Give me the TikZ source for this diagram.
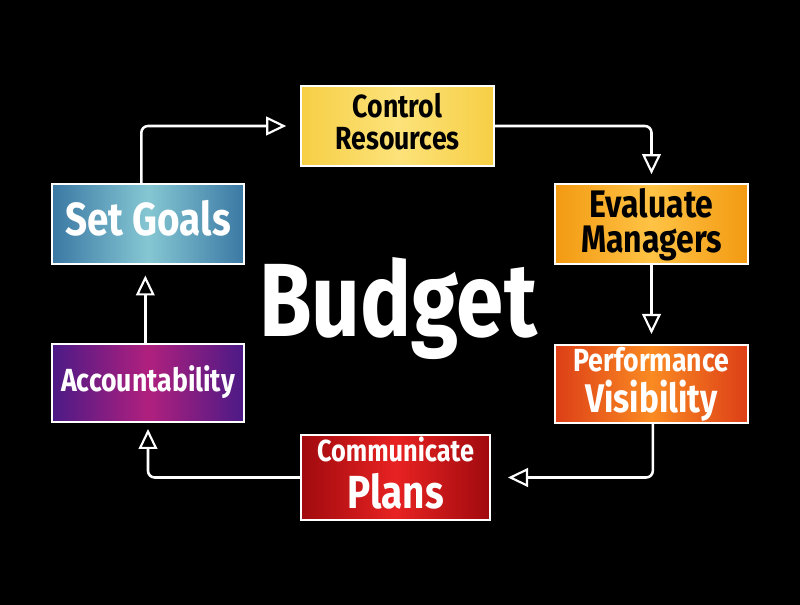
\documentclass[tikz,border=0pt]{standalone}
\usepackage{graphicx}
\usepackage{fontspec}
\setmainfont{Fira Sans}
\usetikzlibrary{arrows.meta}
\definecolor{ylwE}{HTML}{F7CF45}\definecolor{ylwM}{HTML}{FCE27A}
\definecolor{bluE}{HTML}{3A78A3}\definecolor{bluM}{HTML}{86C7D3}
\definecolor{orgE}{HTML}{F39A12}\definecolor{orgM}{HTML}{FFC345}
\definecolor{purE}{HTML}{4B1A86}\definecolor{purM}{HTML}{B0207E}
\definecolor{oreE}{HTML}{DD3F17}\definecolor{oreM}{HTML}{FA8A22}
\definecolor{redE}{HTML}{A00A0E}\definecolor{redM}{HTML}{E82222}
\newcommand\tallt[3]{\scalebox{1}[1.2]{\fontsize{#1}{#2}\selectfont\begin{tabular}{@{}c@{}}#3\end{tabular}}}
\tikzset{
  boxnode/.style={draw=white, line width=1.5pt, inner sep=0pt, minimum width=144.5pt, minimum height=60pt, align=center, font=\bfseries},
  conn/.style={draw=white, line width=1.9pt, rounded corners=5pt, -{Triangle[open, length=15pt, width=14pt, line width=1.6pt]}}
}
\begin{document}
\begin{tikzpicture}[x=0.75pt, y=-0.75pt]
\fill[black] (0,0) rectangle (800,605);
\useasboundingbox (0,0) rectangle (800,605);
% boxes
\node[boxnode, left color=ylwE, right color=ylwE, middle color=ylwM, text=black] (cr) at (397.5,126)
  {\tallt{20}{19}{Control\\Resources}};
\node[boxnode, left color=bluE, right color=bluE, middle color=bluM, text=white] (sg) at (148,224.5)
  {\tallt{29}{29}{Set Goals}};
\node[boxnode, left color=orgE, right color=orgE, middle color=orgM, text=black] (em) at (651.5,224.5)
  {\tallt{24}{18}{Evaluate\\Managers}};
\node[boxnode, left color=purE, right color=purE, middle color=purM, text=white, minimum height=58.5pt] (ac) at (148,383)
  {\tallt{20}{20}{Accountability}};
\node[boxnode, left color=oreE, right color=oreE, middle color=oreM, text=white, minimum height=58.5pt] (pv) at (651.5,384)
  {\raisebox{2pt}{\tallt{20}{17}{Performance\\\fontsize{25}{25}\selectfont Visibility}}};
\node[boxnode, left color=redE, right color=redE, middle color=redM, text=white, minimum width=141.75pt, minimum height=60.75pt] (cp) at (395.5,477.5)
  {\tallt{19}{24}{Communicate\\\fontsize{29}{29}\selectfont Plans}};
% central title
\node[text=white, font=\bfseries, anchor=base, inner sep=0pt] (bud) at (398,337)
  {\scalebox{1}[1.22]{\fontsize{64}{64}\selectfont Budget}};
% connectors
\draw[conn, shorten >=10.5pt] ([xshift=-5pt]sg.north) |- (cr.west);
\draw[conn, shorten >=7pt] (cr.east) -| (em.north);
\draw[conn, shorten >=7.5pt] (em.south) -- (pv.north);
\draw[conn, shorten >=12.75pt] ([xshift=1pt]pv.south) |- (cp.east);
\draw[conn, shorten >=4.5pt] (cp.west) -| (ac.south);
\draw[conn, shorten >=7.5pt] ([xshift=-2pt]ac.north) -- ([xshift=-2pt]sg.south);
\end{tikzpicture}
\end{document}
